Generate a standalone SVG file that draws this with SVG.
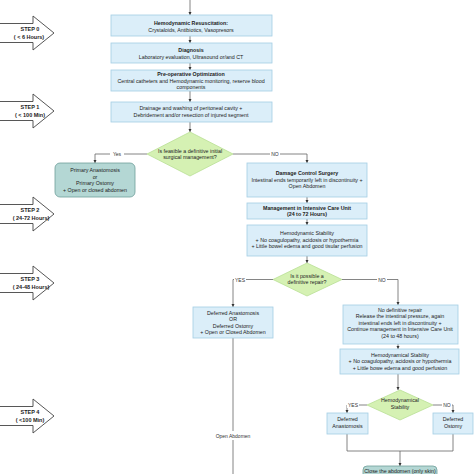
<svg xmlns="http://www.w3.org/2000/svg" width="474" height="474" viewBox="0 0 474 474">
<style>
text{font-family:"Liberation Sans",Arial,sans-serif;font-size:5.3px;fill:#222;text-anchor:middle}
.b{font-weight:bold}
.box{fill:#dbeef9;stroke:#a4cde3;stroke-width:0.8}
.dia{fill:#d5f1b3;stroke:#b9e094;stroke-width:0.8}
.teal{fill:#b4d7d4;stroke:#6f9e9b;stroke-width:0.8}
.step{fill:#fff;stroke:#444;stroke-width:0.9}
.st{font-weight:bold;font-size:5.5px}
.c{fill:none;stroke:#666;stroke-width:0.8}
.lbl{font-size:5px;fill:#333}
</style>
<defs>
<marker id="ah" viewBox="0 0 6 6" refX="6" refY="3" markerWidth="3.2" markerHeight="3.2" markerUnits="userSpaceOnUse" orient="auto">
<path d="M0,0 L6,3 L0,6 Z" fill="#333"/>
</marker>
<path id="sa" d="M-2,-9.5 H33 V-17 L54,0 L33,17 V9.5 H-2 Z"/>
</defs>
<rect width="474" height="474" fill="#fff"/>
<g id="steps">
<g id="step0"><use href="#sa" class="step" transform="translate(0,33)"/><text class="st" x="30" y="31">STEP 0</text><text class="st" x="29" y="38.5">( &lt; 6 Hours)</text></g>
<g id="step1"><use href="#sa" class="step" transform="translate(0,111)"/><text class="st" x="30" y="109">STEP 1</text><text class="st" x="30" y="116.5">( &lt; 100 Min)</text></g>
<g id="step2"><use href="#sa" class="step" transform="translate(0,214)"/><text class="st" x="30" y="212">STEP 2</text><text class="st" x="31" y="219.5">( 24-72 Hours)</text></g>
<g id="step3"><use href="#sa" class="step" transform="translate(0,283)"/><text class="st" x="30" y="281">STEP 3</text><text class="st" x="31" y="288.5">( 24-48 Hours)</text></g>
<g id="step4"><use href="#sa" class="step" transform="translate(0,416)"/><text class="st" x="30" y="414">STEP 4</text><text class="st" x="30" y="421.5">( &lt;100 Min)</text></g>
</g>
<g id="connectors">
<path class="c" d="M190,0 V15" marker-end="url(#ah)"/>
<path class="c" d="M190,36 V43" marker-end="url(#ah)"/>
<path class="c" d="M190,63 V70" marker-end="url(#ah)"/>
<path class="c" d="M190,91 V102" marker-end="url(#ah)"/>
<path class="c" d="M190,122 V132" marker-end="url(#ah)"/>
<path class="c" d="M147,154 H95 V163" marker-end="url(#ah)"/>
<path class="c" d="M233,154 H307 V163" marker-end="url(#ah)"/>
<path class="c" d="M307,197 V203" marker-end="url(#ah)"/>
<path class="c" d="M307,219 V225" marker-end="url(#ah)"/>
<path class="c" d="M307,256 V263" marker-end="url(#ah)"/>
<path class="c" d="M273,279.5 H233 V307" marker-end="url(#ah)"/>
<path class="c" d="M342,279.5 H398 V305" marker-end="url(#ah)"/>
<path class="c" d="M398,344 V349" marker-end="url(#ah)"/>
<path class="c" d="M398,374 V390" marker-end="url(#ah)"/>
<path class="c" d="M367,405 H347 V413" marker-end="url(#ah)"/>
<path class="c" d="M433,405 H453 V413" marker-end="url(#ah)"/>
<path class="c" d="M347,434 V451 H453 V434"/>
<path class="c" d="M400,451 V466" marker-end="url(#ah)"/>
<path class="c" d="M233,338 V431"/>
<path class="c" d="M233,440 V474"/>
<rect x="110" y="151" width="14" height="6" fill="#fff"/>
<text class="lbl" x="117" y="156">Yes</text>
<rect x="270" y="151" width="10" height="6" fill="#fff"/>
<text class="lbl" x="275" y="156">NO</text>
<rect x="234" y="276.5" width="12" height="6" fill="#fff"/>
<text class="lbl" x="240" y="281.5">YES</text>
<rect x="377" y="276.5" width="10" height="6" fill="#fff"/>
<text class="lbl" x="382" y="281.5">NO</text>
<rect x="347" y="402" width="12" height="6" fill="#fff"/>
<text class="lbl" x="353" y="407">YES</text>
<rect x="442" y="402" width="10" height="6" fill="#fff"/>
<text class="lbl" x="447" y="407">NO</text>
<text class="lbl" x="233" y="437.5">Open Abdomen</text>
</g>
<g id="n1"><rect class="box" x="111" y="15" width="161" height="21"/><text class="b" x="191" y="25">Hemodynamic Resuscitation:</text><text x="191" y="31.5">Crystaloids, Antibiotics, Vasopresors</text></g>
<g id="n2"><rect class="box" x="111" y="43" width="161" height="20"/><text class="b" x="191" y="52">Diagnosis</text><text x="191" y="58.5">Laboratory evaluation, Ultrasound or/and CT</text></g>
<g id="n3"><rect class="box" x="111" y="70" width="161" height="21"/><text class="b" x="191" y="76">Pre-operative Optimization</text><text x="191" y="82.5">Central catheters and Hemodynamic monitoring, reserve blood</text><text x="191" y="89">components</text></g>
<g id="n4"><rect class="box" x="111" y="102" width="161" height="20"/><text x="191" y="110">Drainage and washing of peritoneal cavity +</text><text x="191" y="116.5">Debridement and/or resection of injured segment</text></g>
<g id="d1"><path class="dia" d="M190,132 L233,154 L190,176 L147,154 Z"/><text x="190" y="152.5">Is feasible a definitive initial</text><text x="190" y="159">surgical management?</text></g>
<g id="primary"><rect class="teal" x="55" y="163" width="80" height="34" rx="5"/><text x="95" y="172">Primary Anastomosis</text><text x="95" y="178.5">or</text><text x="95" y="185">Primary Ostomy</text><text x="95" y="191.5">+ Open or closed abdomen</text></g>
<g id="dcs"><rect class="box" x="247" y="163" width="120" height="34"/><text class="b" x="307" y="175">Damage Control Surgery</text><text x="307" y="181.5">Intestinal ends temporarily left in discontinuity +</text><text x="307" y="188">Open Abdomen</text></g>
<g id="icu"><rect class="box" x="247" y="203" width="120" height="16"/><text class="b" x="307" y="209.5">Management in Intensive Care Unit</text><text class="b" x="307" y="216">(24 to 72 Hours)</text></g>
<g id="hs1"><rect class="box" x="247" y="225" width="120" height="31"/><text x="307" y="235">Hemodynamic Stability</text><text x="307" y="241.5">+ No coagulopathy, acidosis or hypothermia</text><text x="307" y="248">+ Little bowel edema and good tisular perfusion</text></g>
<g id="d2"><path class="dia" d="M307,263 L342,279.5 L307,296 L273,279.5 Z"/><text x="307" y="277.5">Is it possible a</text><text x="307" y="284">definitive repair?</text></g>
<g id="da1"><rect class="box" x="193" y="307" width="80" height="31"/><text x="233" y="314.5">Deferred Anastomosis</text><text x="233" y="321">OR</text><text x="233" y="327.5">Deferred Ostomy</text><text x="233" y="334">+ Open or Closed Abdomen</text></g>
<g id="ndr"><rect class="box" x="343" y="305" width="115" height="39"/><text x="400" y="311.5">No definitive repair</text><text x="400" y="318">Release the intestinal pressure, again</text><text x="400" y="324.5">intestinal ends left in discontinuity +</text><text x="400" y="331">Continue management in Intensive Care Unit</text><text x="400" y="337.5">(24 to 48 hours)</text></g>
<g id="hs2"><rect class="box" x="340" y="349" width="119" height="25"/><text x="400" y="356.5">Hemodynamical Stability</text><text x="400" y="363">+ No coagulopathy, acidosis or hypothermia</text><text x="400" y="369.5">+ Little bowe edema and good perfusion</text></g>
<g id="d3"><path class="dia" d="M400,390 L433,405 L400,420 L367,405 Z"/><text x="400" y="402">Hemodynamical</text><text x="400" y="408.5">Stability</text></g>
<g id="da2"><rect class="box" x="327" y="413" width="41" height="21"/><text x="347.5" y="421">Deferred</text><text x="347.5" y="427.5">Anastomosis</text></g>
<g id="do2"><rect class="box" x="433" y="413" width="40" height="21"/><text x="453" y="421">Deferred</text><text x="453" y="427.5">Ostomy</text></g>
<g id="close"><rect class="teal" x="363" y="466" width="74" height="14" rx="4"/><text x="400" y="473">Close the abdomen (only skin)</text></g>
</svg>
